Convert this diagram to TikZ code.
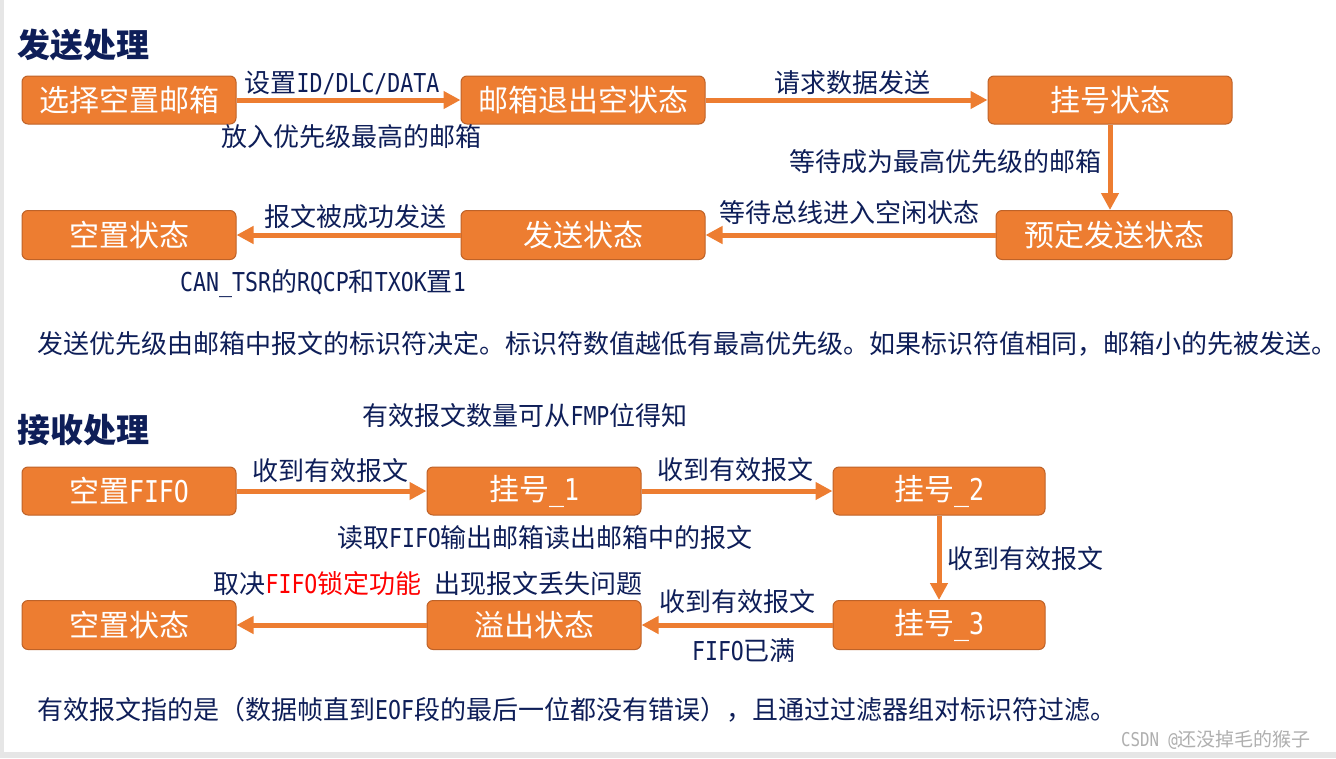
\documentclass[tikz,border=0pt]{standalone}
\usepackage{fontspec}
\setmainfont{Noto Sans CJK SC}
\newfontfamily\latn[FakeStretch=0.83]{DejaVu Sans Mono}
\newcommand\latx[1]{{\latn #1}}
\usetikzlibrary{arrows.meta}
\definecolor{org}{RGB}{237,125,49}
\definecolor{orgd}{RGB}{190,98,40}
\definecolor{navy}{RGB}{14,30,88}
\definecolor{wmgray}{RGB}{175,175,175}
\definecolor{edgegray}{RGB}{230,230,230}
\tikzset{
  box/.style={draw=orgd, line width=1pt, fill=org, rounded corners=6pt, text=white,
    font=\fontsize{30}{33}\selectfont, inner sep=0pt, minimum height=48pt},
  lbl/.style={text=navy, font=\fontsize{26}{29}\selectfont, inner sep=0pt},
  ttl/.style={text=navy, font=\fontsize{33}{36}\selectfont\bfseries, inner sep=0pt, anchor=west},
  conn/.style={draw=org, line width=5pt, -{Triangle[length=17pt,width=17pt]}, shorten >=0pt},
}
\begin{document}
\begin{tikzpicture}[x=1pt,y=-1pt]
\useasboundingbox (0,0) rectangle (1336,758);
\fill[white] (0,0) rectangle (1336,758);
\fill[edgegray] (0,0) rectangle (4,752);
\fill[edgegray] (0,752) rectangle (1336,758);

% titles
\node[ttl] (t1) at (17,45) {发送处理};
\node[ttl] (t2) at (17,430) {接收处理};

% send boxes
\node[box, minimum width=214pt] (b1) at (129,100) {选择空置邮箱};
\node[box, minimum width=244pt] (b2) at (583,100) {邮箱退出空状态};
\node[box, minimum width=244pt] (b3) at (1110,100) {挂号状态};
\node[box, minimum width=214pt, minimum height=49pt] (c1) at (129,235) {空置状态};
\node[box, minimum width=244pt, minimum height=49pt] (c2) at (583,235) {发送状态};
\node[box, minimum width=236pt, minimum height=49pt] (c3) at (1114,235) {预定发送状态};

\draw[conn] (b1) -- (b2);
\draw[conn] (b2) -- (b3);
\draw[conn] (b3.south) -- (b3.south |- c3.north);
\draw[conn] (c3) -- (c2);
\draw[conn] (c2) -- (c1);

\node[lbl] (l1) at (342,83) {设置\latx{ID/DLC/DATA}};
\node[lbl] (l2) at (351,137) {放入优先级最高的邮箱};
\node[lbl] (l3) at (852,83) {请求数据发送};
\node[lbl] (l4) at (945,162) {等待成为最高优先级的邮箱};
\node[lbl] (l5) at (849,213) {等待总线进入空闲状态};
\node[lbl] (l6) at (355,217) {报文被成功发送};
\node[lbl] (l7) at (323,284) {\latx{CAN\_TSR}的\latx{RQCP}和\latx{TXOK}置\latx{1}};
\node[lbl, anchor=west] (n1) at (37,344) {发送优先级由邮箱中报文的标识符决定。标识符数值越低有最高优先级。如果标识符值相同，邮箱小的先被发送。};

% receive boxes
\node[box, minimum width=214pt] (d1) at (129,491) {空置\latx{FIFO}};
\node[box, minimum width=214pt] (d2) at (534,491) {挂号\latx{\_1}};
\node[box, minimum width=212pt] (d3) at (939,491) {挂号\latx{\_2}};
\node[box, minimum width=214pt, minimum height=49pt] (e1) at (129,625) {空置状态};
\node[box, minimum width=214pt, minimum height=49pt] (e2) at (534,625) {溢出状态};
\node[box, minimum width=212pt, minimum height=49pt] (e3) at (939,625) {挂号\latx{\_3}};

\draw[conn] (d1) -- (d2);
\draw[conn] (d2) -- (d3);
\draw[conn] (d3) -- (e3);
\draw[conn] (e3) -- (e2);
\draw[conn] (e2) -- (e1);

\node[lbl] (r0) at (525,416) {有效报文数量可从\latx{FMP}位得知};
\node[lbl] (r1) at (330,471) {收到有效报文};
\node[lbl] (r2) at (735,470) {收到有效报文};
\node[lbl] (r3) at (545,538) {读取\latx{FIFO}输出邮箱读出邮箱中的报文};
\node[lbl] (r4) at (1025,559) {收到有效报文};
\node[lbl] (r5) at (737,602) {收到有效报文};
\node[lbl] (r6) at (744,651) {\latx{FIFO}已满};
\node[lbl] (r7) at (428,584) {取决\textcolor{red}{\latx{FIFO}锁定功能}\latx{ }出现报文丢失问题};
\node[lbl, anchor=west] (n2) at (37,710) {有效报文指的是（数据帧直到\latx{EOF}段的最后一位都没有错误），且通过过滤器组对标识符过滤。};

\node[text=wmgray, font=\fontsize{19}{21}\selectfont, inner sep=0pt] (wm) at (1216,740) {\latx{CSDN @}还没掉毛的猴子};
\end{tikzpicture}
\end{document}
